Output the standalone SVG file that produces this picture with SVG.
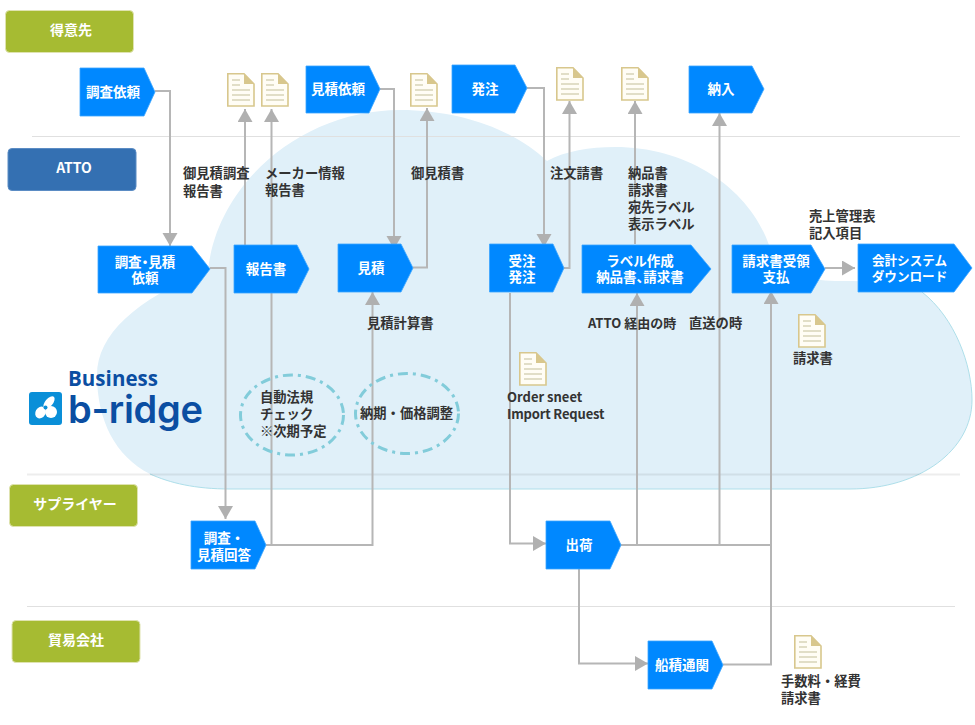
<svg xmlns="http://www.w3.org/2000/svg" width="975" height="725" viewBox="0 0 975 725">
<style>
text{font-family:"Noto Sans CJK JP","Noto Sans",sans-serif;font-weight:700}
.n{fill:#0088ff;stroke:#3aa5ff;stroke-width:.8}
.nt{fill:#fff;font-size:13.5px;text-anchor:middle}
.nts{fill:#fff;font-size:12.600px;text-anchor:middle}
.lane{stroke:#dfe3b0;stroke-width:1}
.lt{fill:#fff;font-size:14px;text-anchor:middle}
.lab{fill:#333;font-size:13.300px}
.lat{fill:#333;font-size:13px}
.sp{word-spacing:-3px}
.c{fill:none;stroke:#b6b6b6;stroke-width:2}
.hl{fill:none;stroke:#e0e0e0;stroke-width:1}
.doc{fill:#fffdf5;stroke:#d8c78d;stroke-width:1.6}
.fold{fill:#d8c78d}
.dl{stroke:#d8d4b8;stroke-width:1.4}
.ell{fill:none;stroke:#82ccda;stroke-width:3;stroke-dasharray:10 5 3 5}
</style>
<defs>
<marker id="a" markerUnits="userSpaceOnUse" markerWidth="14" markerHeight="16" refX="13" refY="7.500" orient="auto"><path d="M0 0L13 7.500L0 15Z" fill="#b0b0b0"/></marker>
<g id="d"><path class="doc" d="M0.8 0.8H17L27 11V33H0.8Z"/><path class="fold" d="M17 0.8L27 11H17Z"/><path class="dl" d="M5 7H13M5 12H13M5 17H23M5 22H23M5 27H23"/></g>
</defs>
<g id="cloud">
<path d="M230 489C195 489 170 483 150 474C115 456 97 420 97 375C97 335 135 300 208 270C218 180 305 110 400 110C460 110 515 130 547 161C565 151 590 147 615 147C690 147 750 190 769 245C785 275 810 281 840 281C870 281 900 282 922 292C955 318 972 365 972 400C972 450 920 489 850 489Z" fill="#e0f0f9"/>
<path d="M150 474C170 483 195 489 230 489H850C920 489 972 450 972 400C972 365 955 318 922 292" fill="none" stroke="#aedfea" stroke-width="1"/>
</g>
<g id="lines"><path class="hl" d="M32 136.500H960M27 606.500H955"/><path d="M27 474.500H960" stroke="#000" stroke-opacity=".07" stroke-width="2"/></g>
<g id="lane-customer"><rect class="lane" x="5.500" y="10.500" width="128" height="42" rx="4" fill="#a6bb32"/><text class="lt" x="71" y="35">得意先</text></g>
<g id="lane-atto"><rect x="8" y="148.500" width="128" height="42" rx="4" fill="#3470b2" stroke="#5b8cc4"/><text class="lt" x="74" y="173">ATTO</text></g>
<g id="lane-supplier"><rect class="lane" x="9.500" y="484.500" width="128" height="42" rx="4" fill="#a6bb32"/><text class="lt" x="75" y="509">サプライヤー</text></g>
<g id="lane-trade"><rect class="lane" x="12" y="620.500" width="128" height="42" rx="4" fill="#a6bb32"/><text class="lt" x="76" y="645">貿易会社</text></g>
<g id="connectors">
<path class="c" marker-end="url(#a)" d="M155 91H170V246"/>
<path class="c" marker-end="url(#a)" d="M210 268H225.500V519"/>
<path class="c" marker-end="url(#a)" d="M245 245V109"/>
<path class="c" marker-end="url(#a)" d="M271.500 545V109"/>
<path class="c" marker-end="url(#a)" d="M266 545H372.500V292"/>
<path class="c" marker-end="url(#a)" d="M380 89H394V249"/>
<path class="c" marker-end="url(#a)" d="M413 267.500H427V108"/>
<path class="c" marker-end="url(#a)" d="M527 88H544V247"/>
<path class="c" marker-end="url(#a)" d="M564 268H569.500V101"/>
<path class="c" marker-end="url(#a)" d="M635 244V101"/>
<path class="c" marker-end="url(#a)" d="M510 293V543.500H546"/>
<path class="c" marker-end="url(#a)" d="M621 545H771V291"/>
<path class="c" marker-end="url(#a)" d="M637 545V293"/>
<path class="c" marker-end="url(#a)" d="M719.500 545V113"/>
<path class="c" marker-end="url(#a)" d="M579 569V663.500H648"/>
<path class="c" d="M723 664.500H771V545"/>
<path class="c" marker-end="url(#a)" d="M825 268H855"/>
</g>
<g id="n-chousa-irai"><path class="n" d="M80 68H144L155 92L144 116H80Z"/><text class="nt" x="113" y="97">調査依頼</text></g>
<g id="n-mitsumori-irai"><path class="n" d="M306 66H369L380 89L369 113H306Z"/><text class="nt" x="338" y="94">見積依頼</text></g>
<g id="n-hatchu"><path class="n" d="M452 65H515L527 88L515 113H452Z"/><text class="nt" x="485" y="94">発注</text></g>
<g id="n-nyuka"><path class="n" d="M689 66H752L764 89L752 113H689Z"/><text class="nt" x="721" y="94">納入</text></g>
<g id="n-chousa-mitsumori"><path class="n" d="M98 246H192L210 269L192 293H98Z"/><text class="nt" x="145" y="267" style="font-feature-settings:'palt'">調査・見積</text><text class="nt" x="145" y="283">依頼</text></g>
<g id="n-houkoku"><path class="n" d="M234 245H297L309 269L297 293H234Z"/><text class="nt" x="266" y="274">報告書</text></g>
<g id="n-mitsumori"><path class="n" d="M338 244H401L413 268L401 292H338Z"/><text class="nt" x="371" y="273">見積</text></g>
<g id="n-juchu"><path class="n" d="M489.500 244H553L564 268L553 292H489.500Z"/><text class="nt" x="522" y="266">受注</text><text class="nt" x="522" y="282">発注</text></g>
<g id="n-label"><path class="n" d="M582 245H691L711 269L691 293H582Z"/><text class="nt" x="640" y="266">ラベル作成</text><text class="nt" x="640" y="282" style="font-feature-settings:'palt'">納品書、請求書</text></g>
<g id="n-seikyu"><path class="n" d="M732 245H811L825 269L811 293H732Z"/><text class="nt" x="776" y="266">請求書受領</text><text class="nt" x="776" y="282">支払</text></g>
<g id="n-kaikei"><path class="n" d="M858 244H954L972 268L954 292H858Z"/><text class="nts" x="909.500" y="265">会計システム</text><text class="nts" x="909.500" y="281">ダウンロード</text></g>
<g id="n-kaito"><path class="n" d="M191 521H255L266 545L255 569H191Z"/><text class="nt" x="224" y="543">調査・</text><text class="nt" x="224" y="560">見積回答</text></g>
<g id="n-shukka"><path class="n" d="M546 521H610L621 545L610 569H546Z"/><text class="nt" x="579" y="550">出荷</text></g>
<g id="n-funazumi"><path class="n" d="M648 641H712L723 665L712 689H648Z"/><text class="nt" x="682" y="670">船積通関</text></g>
<g id="docs">
<use href="#d" x="227" y="73"/><use href="#d" x="261" y="73"/><use href="#d" x="410" y="73"/><use href="#d" x="556" y="67"/><use href="#d" x="621" y="67"/><use href="#d" x="798" y="314"/><use href="#d" x="519" y="352"/><use href="#d" x="794" y="635"/>
</g>
<g id="labels">
<text class="lab" x="183" y="178">御見積調査</text><text class="lab" x="183" y="196">報告書</text>
<text class="lab" x="265" y="178">メーカー情報</text><text class="lab" x="265" y="195">報告書</text>
<text class="lab" x="411" y="178">御見積書</text>
<text class="lab" x="550" y="178">注文請書</text>
<text class="lab" x="628" y="178">納品書</text><text class="lab" x="628" y="195">請求書</text><text class="lab" x="628" y="212">宛先ラベル</text><text class="lab" x="628" y="229">表示ラベル</text>
<text class="lab" x="809" y="221">売上管理表</text><text class="lab" x="809" y="238">記入項目</text>
<text class="lab" x="367" y="328">見積計算書</text>
<text class="lat" x="588" y="328">ATTO 経由の時</text><text class="lab" x="689" y="328">直送の時</text>
<text class="lab" x="793" y="363">請求書</text>
<text class="lat" x="507" y="402">Order sneet</text><text class="lat" x="507" y="419" letter-spacing="-.15">Import Request</text>
<text class="lab" x="260" y="402">自動法規</text><text class="lab" x="260" y="419">チェック</text><text class="lab" x="260" y="436">※次期予定</text>
<text class="lab sp" x="360" y="418">納期 ・価格調整</text>
<text class="lab sp" x="781" y="686">手数料 ・経費</text><text class="lab" x="781" y="703">請求書</text>
</g>
<ellipse class="ell" cx="292" cy="415" rx="51.500" ry="40"/>
<ellipse class="ell" cx="407" cy="413.500" rx="51.500" ry="40"/>
<g id="logo">
<rect x="29" y="392" width="33" height="33" rx="3" fill="#0a8fd8"/>
<ellipse cx="49" cy="402.500" rx="7.500" ry="3.800" transform="rotate(-50 49 402.500)" fill="#fff"/>
<circle cx="51" cy="412" r="6" fill="#fff"/>
<ellipse cx="40.500" cy="412.500" rx="5" ry="6.200" transform="rotate(30 40.500 412.500)" fill="#fff"/>
<circle cx="45.500" cy="407.500" r="2" fill="#0a8fd8"/>
<text x="68" y="386" font-size="20.500" fill="#0b4ea2" style='font-family:"Open Sans",sans-serif' textLength="90">Business</text>
<text x="68" y="423" font-size="38" fill="#0b4ea2" style='font-family:"Inter",sans-serif;font-weight:600' textLength="135">b-ridge</text>
</g>
</svg>
